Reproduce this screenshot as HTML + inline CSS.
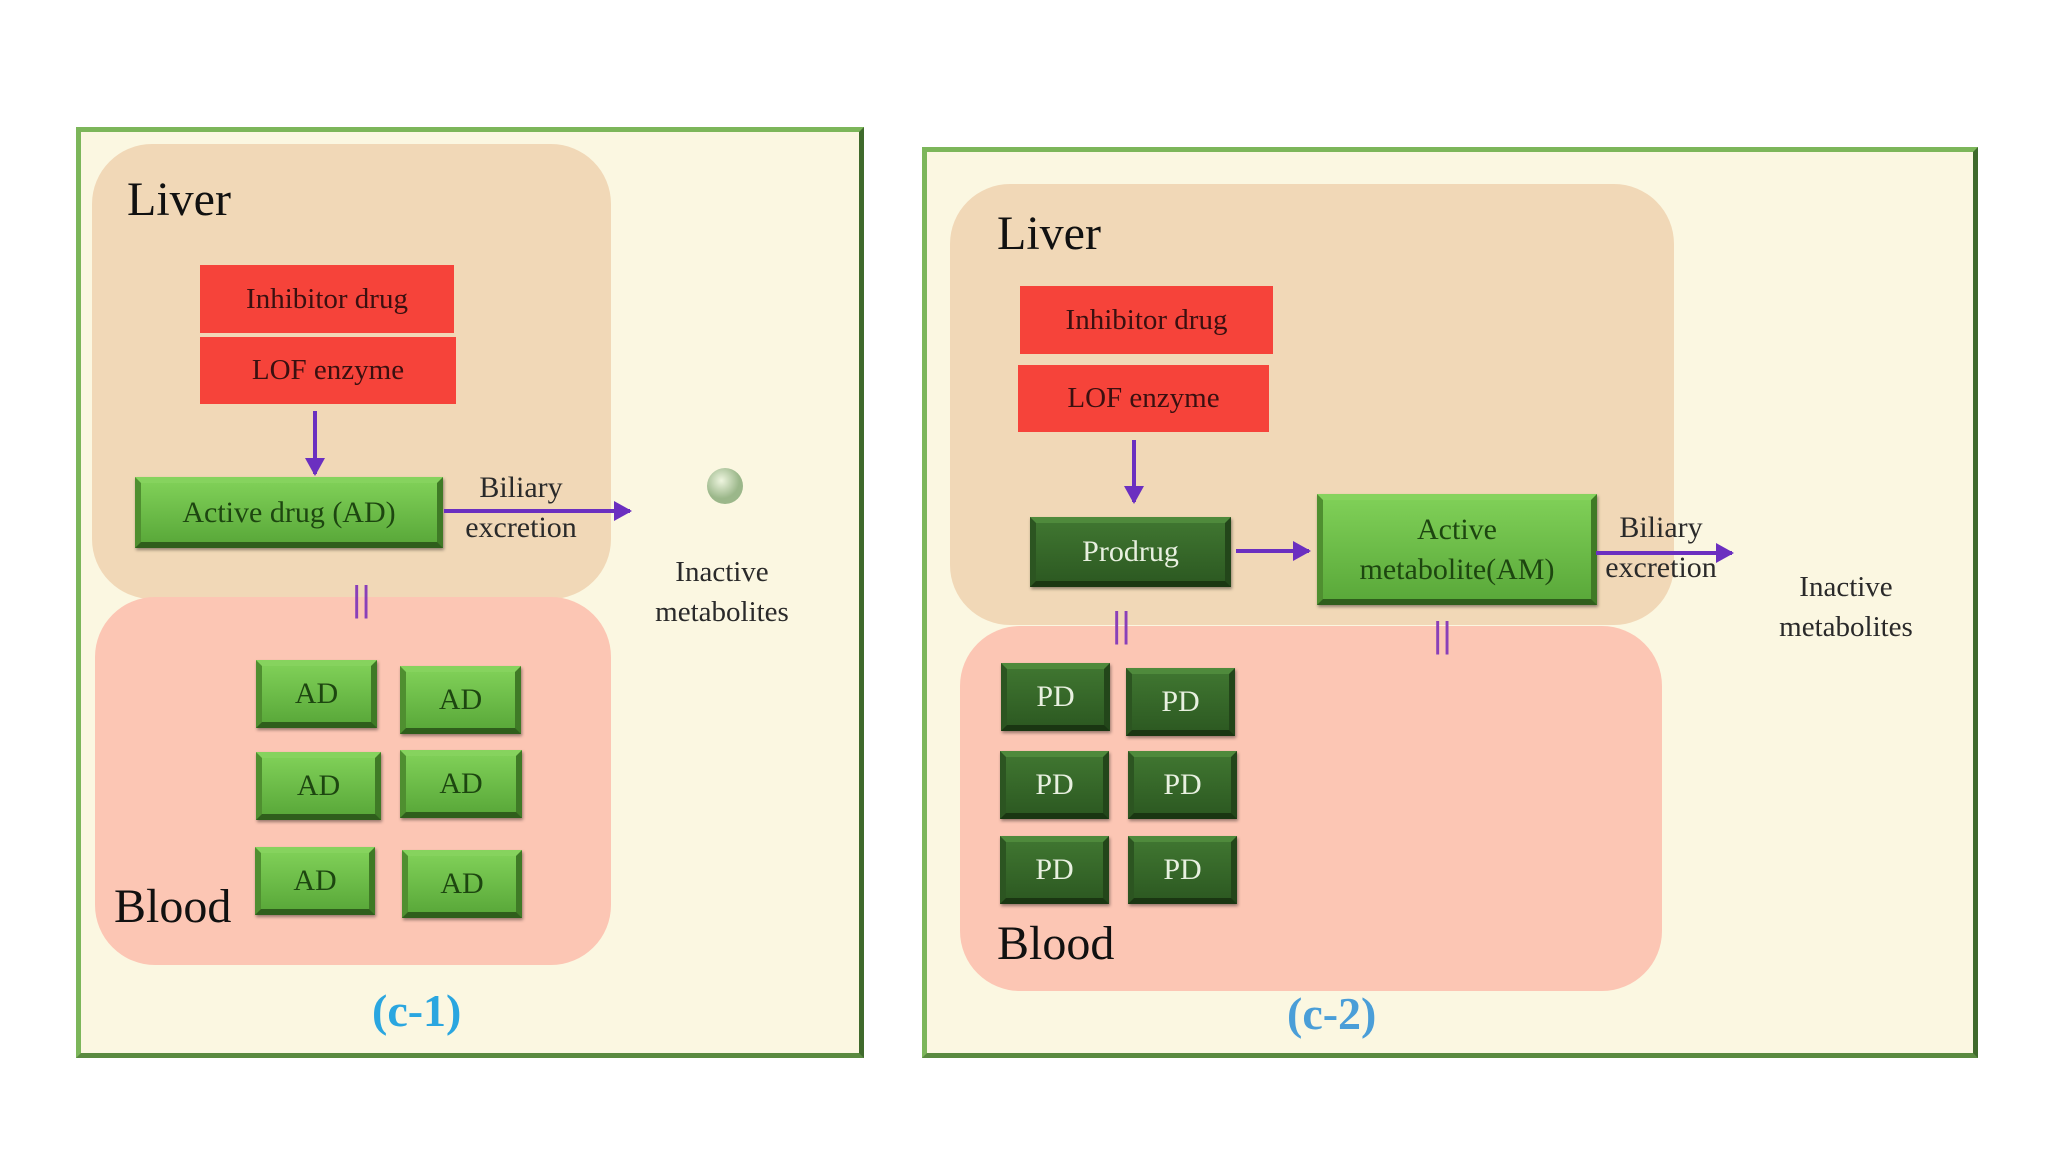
<!DOCTYPE html>
<html><head><meta charset="utf-8"><style>
body{margin:0;width:2048px;height:1152px;background:#fff;position:relative;overflow:hidden;font-family:"Liberation Serif",serif}
.a{position:absolute;box-sizing:border-box}
.panel{background:#fbf7e1;border:5px solid #7cb65a;border-right-color:#3f6a2c;border-bottom-color:#5a8a40}
.liver{background:#f1d8b7;border-radius:60px}
.blood{background:#fcc6b4;border-radius:60px}
.red{background:#f6433a;color:#3a1010;font-size:29px;display:flex;align-items:center;justify-content:center}
.g{background:linear-gradient(#7fcf57,#5aa93a);border:6px solid;border-color:#86d35e #3f7a26 #2f5e1c #4f8f30;color:#1d4610;display:flex;align-items:center;justify-content:center;text-align:center;box-shadow:1px 2px 3px rgba(0,0,0,.4)}
.d{background:linear-gradient(#3f7530,#2d5a22);border:6px solid;border-color:#4f8a3c #23461a #1a3612 #2c5521;color:#e8f0e0;display:flex;align-items:center;justify-content:center;box-shadow:1px 2px 3px rgba(0,0,0,.4)}
.t{color:#2a2a2a;text-align:center;white-space:nowrap}
.big{font-size:48px;color:#111}
.lab{font-size:46px;font-weight:bold;color:#2aa6e0}
.eq{color:#8a3fb8;font-size:36px;font-family:"Liberation Sans",sans-serif}
</style></head><body>
<svg class="a" style="left:0;top:0;z-index:5" width="2048" height="1152">
<defs><marker id="m" markerWidth="5" markerHeight="5" refX="4" refY="2.5" orient="auto" markerUnits="strokeWidth"><path d="M0,0L4.5,2.5L0,5z" fill="#6b2fc0"/></marker></defs>
<g stroke="#6b2fc0" stroke-width="4" fill="none">
<line x1="315" y1="411" x2="315" y2="474" marker-end="url(#m)"/>
<line x1="444" y1="511" x2="630" y2="511" marker-end="url(#m)"/>
<line x1="1134" y1="440" x2="1134" y2="502" marker-end="url(#m)"/>
<line x1="1236" y1="551" x2="1309" y2="551" marker-end="url(#m)"/>
<line x1="1596" y1="553" x2="1732" y2="553" marker-end="url(#m)"/>
</g>
<defs><radialGradient id="s" cx="40%" cy="35%"><stop offset="0" stop-color="#eef5df"/><stop offset="1" stop-color="#9bb78a"/></radialGradient></defs>
<circle cx="725" cy="486" r="18" fill="url(#s)"/>
</svg>

<div class="a panel" style="left:76px;top:127px;width:788px;height:931px"></div>
<div class="a liver" style="left:92px;top:144px;width:519px;height:455px"></div>
<div class="a blood" style="left:95px;top:597px;width:516px;height:368px"></div>
<div class="a big" style="left:127px;top:172px">Liver</div>
<div class="a red" style="left:200px;top:265px;width:254px;height:68px">Inhibitor drug</div>
<div class="a red" style="left:200px;top:337px;width:256px;height:67px">LOF enzyme</div>
<div class="a g" style="left:135px;top:477px;width:308px;height:71px;font-size:30px">Active drug (AD)</div>
<div class="a t" style="left:456px;top:468px;width:130px;font-size:30px;line-height:40px">Biliary<br>excretion</div>
<div class="a t" style="left:642px;top:552px;width:160px;font-size:29px;line-height:40px">Inactive<br>metabolites</div>
<div class="a eq" style="left:352px;top:578px">||</div>
<div class="a g" style="left:256px;top:660px;width:121px;height:68px;font-size:30px">AD</div>
<div class="a g" style="left:400px;top:666px;width:121px;height:68px;font-size:30px">AD</div>
<div class="a g" style="left:256px;top:752px;width:125px;height:68px;font-size:30px">AD</div>
<div class="a g" style="left:400px;top:750px;width:122px;height:68px;font-size:30px">AD</div>
<div class="a g" style="left:255px;top:847px;width:120px;height:68px;font-size:30px">AD</div>
<div class="a g" style="left:402px;top:850px;width:120px;height:68px;font-size:30px">AD</div>
<div class="a big" style="left:114px;top:879px">Blood</div>
<div class="a lab" style="left:372px;top:984px">(c-1)</div>

<div class="a panel" style="left:922px;top:147px;width:1056px;height:911px"></div>
<div class="a liver" style="left:950px;top:184px;width:724px;height:441px"></div>
<div class="a blood" style="left:960px;top:626px;width:702px;height:365px"></div>
<div class="a big" style="left:997px;top:206px">Liver</div>
<div class="a red" style="left:1020px;top:286px;width:253px;height:68px">Inhibitor drug</div>
<div class="a red" style="left:1018px;top:365px;width:251px;height:67px">LOF enzyme</div>
<div class="a d" style="left:1030px;top:517px;width:201px;height:70px;font-size:30px">Prodrug</div>
<div class="a g" style="left:1317px;top:494px;width:280px;height:111px;font-size:30px;line-height:40px">Active<br>metabolite(AM)</div>
<div class="a t" style="left:1596px;top:508px;width:130px;font-size:30px;line-height:40px">Biliary<br>excretion</div>
<div class="a t" style="left:1766px;top:567px;width:160px;font-size:29px;line-height:40px">Inactive<br>metabolites</div>
<div class="a eq" style="left:1112px;top:604px">||</div>
<div class="a eq" style="left:1433px;top:614px">||</div>
<div class="a d" style="left:1001px;top:663px;width:109px;height:68px;font-size:30px">PD</div>
<div class="a d" style="left:1126px;top:668px;width:109px;height:68px;font-size:30px">PD</div>
<div class="a d" style="left:1000px;top:751px;width:109px;height:68px;font-size:30px">PD</div>
<div class="a d" style="left:1128px;top:751px;width:109px;height:68px;font-size:30px">PD</div>
<div class="a d" style="left:1000px;top:836px;width:109px;height:68px;font-size:30px">PD</div>
<div class="a d" style="left:1128px;top:836px;width:109px;height:68px;font-size:30px">PD</div>
<div class="a big" style="left:997px;top:916px">Blood</div>
<div class="a lab" style="left:1287px;top:987px;color:#4a9ed8">(c-2)</div>
</body></html>
